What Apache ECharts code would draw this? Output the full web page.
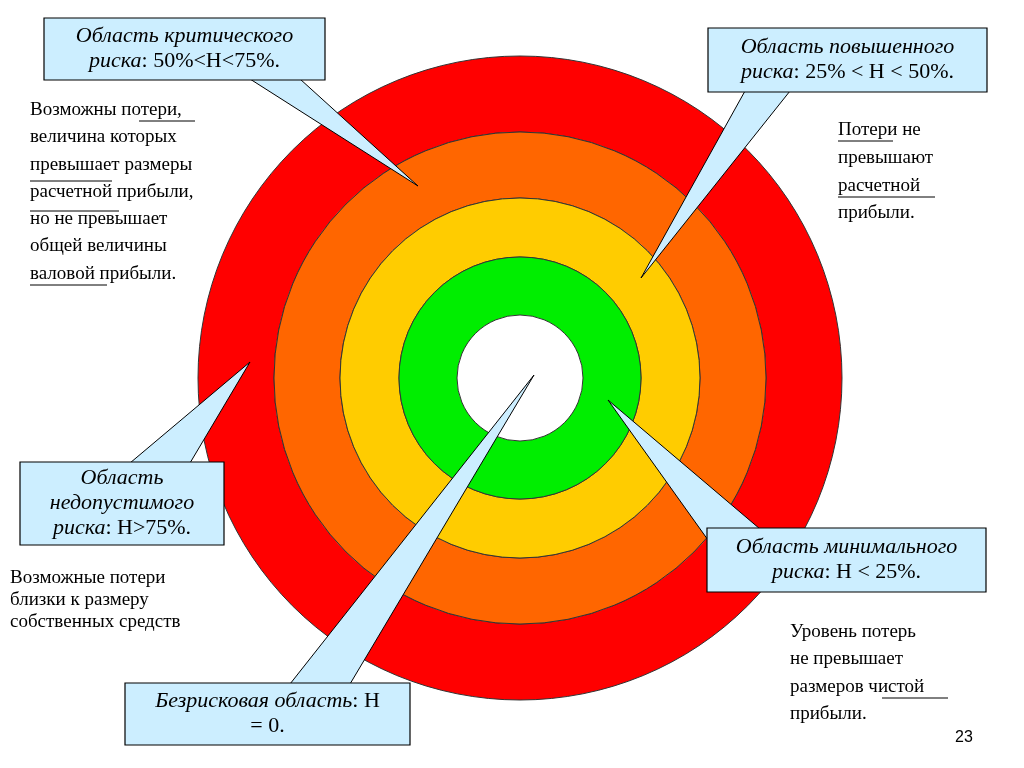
<!DOCTYPE html>
<html><head><meta charset="utf-8">
<script src="https://cdn.jsdelivr.net/npm/echarts@6/dist/echarts.min.js"></script>
<style>html,body{margin:0;background:#fff}#c{width:1024px;height:768px}</style>
</head><body><div id="c"></div>
<script>
const ringNames = ['Область недопустимого риска','Область критического риска','Область повышенного риска','Область минимального риска'];
const ringValues = [1,1,1,1];
const ringColors = ['#ff0000','#ff6600','#ffcc00','#00ee00'];
const radii = [[246,322],[180,246],[121,180],[63,121]];
const leftText = ['Возможны потери,','величина которых','превышает размеры','расчетной прибыли,','но не превышает','общей величины','валовой прибыли.'];
const rightText = ['Потери не','превышают','расчетной','прибыли.'];
const leftBottomText = ['Возможные потери','близки к размеру','собственных средств'];
const rightBottomText = ['Уровень потерь','не превышает','размеров чистой','прибыли.'];

const chart = echarts.init(document.getElementById('c'));
const C=[520,378];
const series = ringNames.map((n,i)=>({type:'pie',center:C,radius:radii[i],silent:true,label:{show:false},labelLine:{show:false},
  itemStyle:{color:ringColors[i],borderColor:'#333',borderWidth:1},data:[{name:n,value:ringValues[i]}]}));
const serif='"Liberation Serif","Times New Roman",serif';
const g=[];
function callout(x,y,w,h,tri,lines){
  g.push({type:'polygon',shape:{points:tri},style:{fill:'#cceeff',stroke:'#000',lineWidth:1},z:10});
  g.push({type:'rect',shape:{x,y,width:w,height:h},style:{fill:'#cceeff',stroke:'#000',lineWidth:1.2},z:11});
  g.push({type:'text',x:x+w/2,y:y+h/2,style:{text:lines,align:'center',verticalAlign:'middle',font:'22px '+serif,fill:'#000',lineHeight:25,
    rich:{i:{fontStyle:'italic',fontSize:22,fontFamily:serif},r:{fontSize:22,fontFamily:serif}}},z:12});
}
callout(44,18,281,62,[[250,79],[300,79],[418,186]],'{i|Область критического}\n{i|риска}{r|: 50%<H<75%.}');
callout(708,28,279,64,[[745,91],[790,91],[641,278]],'{i|Область повышенного}\n{i|риска}{r|: 25% < H < 50%.}');
callout(20,462,204,83,[[130,463],[190,463],[250,362]],'{i|Область}\n{i|недопустимого}\n{i|риска}{r|: H>75%.}');
callout(707,528,279,64,[[708,540],[760,529],[608,400]],'{i|Область минимального}\n{i|риска}{r|: H < 25%.}');
callout(125,683,285,62,[[290,684],[350,684],[534,375]],'{i|Безрисковая область}{r|: H}\n{r|= 0.}');
function block(x,y,lh,lines){lines.forEach((t,i)=>g.push({type:'text',x,y:y+i*lh,style:{text:t,font:'19px '+serif,fill:'#000',verticalAlign:'middle'},z:12}));}
block(30,110,27.3,leftText);
block(838,130,27.8,rightText);
block(10,578,22,leftBottomText);
block(790,632,27.3,rightBottomText);
function ul(x1,x2,y){g.push({type:'line',shape:{x1,y1:y,x2,y2:y},style:{stroke:'#000',lineWidth:1},z:12});}
ul(139,195,121);ul(30,112,181);ul(30,119,211);ul(30,107,285);
ul(838,893,141);ul(838,935,197);ul(882,948,698);
g.push({type:'text',x:955,y:738,style:{text:'23',font:'16px "Liberation Sans",Arial,sans-serif',fill:'#000',verticalAlign:'middle'}});
chart.setOption({animation:false,series,graphic:g});
</script></body></html>
